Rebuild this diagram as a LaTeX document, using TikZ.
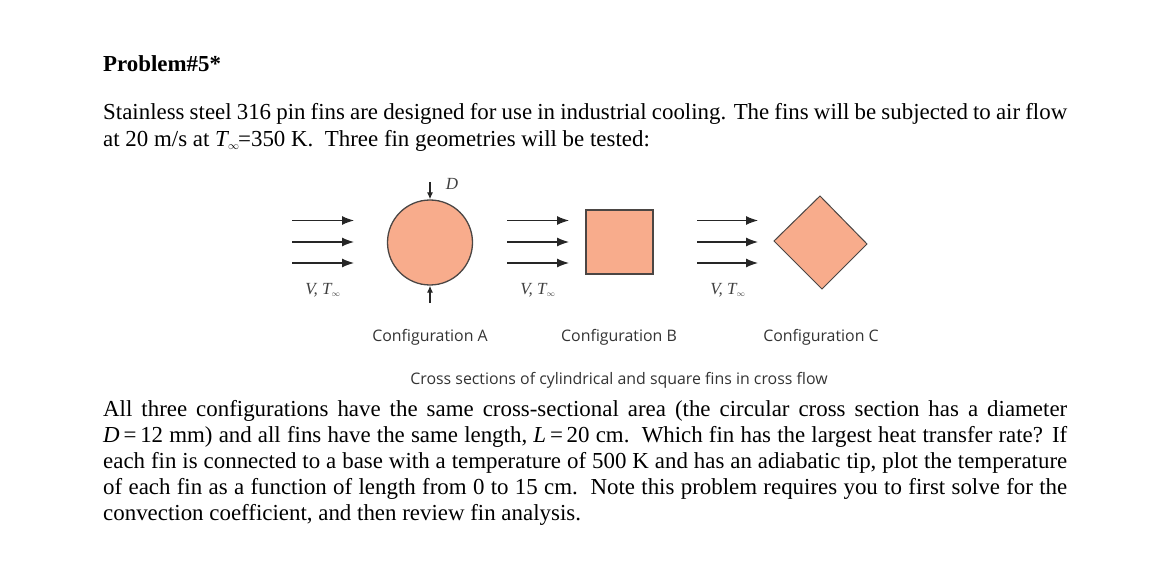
\documentclass[tikz,border=0pt]{standalone}
\usepackage{fontspec}
\usepackage{xcolor}
\setmainfont{Liberation Serif}
\newfontfamily\capfont{Open Sans}
\usetikzlibrary{arrows.meta}
\definecolor{finfill}{RGB}{248,172,140}
\definecolor{finline}{RGB}{75,70,68}
\tikzset{
	bodytext/.style={anchor=base west,inner sep=0pt,font=\fontsize{22.9}{26.2}\selectfont},
	parabox/.style={bodytext,text width=964pt,align=justify},
	conftext/.style={inner sep=0pt,text=black!80,font=\capfont\fontsize{15.9}{18}\selectfont},
	flowtext/.style={inner sep=0pt,text=black!75,font=\fontsize{17}{18}\selectfont\itshape},
	finshape/.style={draw=finline,fill=finfill,line width=1.3pt},
}
\begin{document}
\begin{tikzpicture}[x=1pt,y=-1pt]
	\useasboundingbox (0,0) rectangle (1170,580);
	% text
	\node[bodytext,font=\fontsize{22.9}{26}\selectfont\bfseries] (title) at (103,71.5) {Problem\#5*};
	\node[parabox] (intro) at (103,120) {Stainless steel 316 pin fins are designed for use in industrial cooling. The fins will be subjected to air flow\linebreak
		at 20 m/s at \textit{T}\kern-1pt$_{\scriptscriptstyle\infty}$\kern-1.5pt=350 K.\ \ Three fin geometries will be tested:};
	\node[parabox] (body) at (103,416) {All three configurations have the same cross-sectional area (the circular cross section has a diameter\linebreak
		\textit{D}\,=\,12 mm) and all fins have the same length, \textit{L}\,=\,20 cm.\ \ Which fin has the largest heat transfer rate? If\linebreak
		each fin is connected to a base with a temperature of 500 K and has an adiabatic tip, plot the temperature\linebreak
		of each fin as a function of length from 0 to 15 cm.\ \ Note this problem requires you to first solve for the\linebreak
		convection coefficient, and then review fin analysis.};
	% fins
	\node[finshape,circle,inner sep=0pt,minimum size=85pt] (A) at (430,242.5) {};
	\node[finshape,rectangle,inner sep=0pt,minimum width=67pt,minimum height=64pt] (B) at (619.5,242) {};
	\coordinate (Ct) at (820,196);
	\coordinate (Cr) at (867,244);
	\coordinate (Cb) at (822,289);
	\coordinate (Cl) at (774,241);
	\draw[finshape,line width=1pt] (Ct) -- (Cr) -- (Cb) -- (Cl) -- cycle;
	% flow arrows, free ends
	\coordinate (P1) at (292,220.5);
	\coordinate (P1') at (292,242);
	\coordinate (P1'') at (292,263);
	\coordinate (Q1) at (354,220.5);
	\coordinate (Q1') at (354,242);
	\coordinate (Q1'') at (354,263);
	\coordinate (P2) at (507,220.5);
	\coordinate (P2') at (507,242);
	\coordinate (P2'') at (507,263);
	\coordinate (Q2) at (569,220.5);
	\coordinate (Q2') at (569,242);
	\coordinate (Q2'') at (569,263);
	\coordinate (P3) at (697,220.5);
	\coordinate (P3') at (697,242);
	\coordinate (P3'') at (697,263);
	\coordinate (Q3) at (758,220.5);
	\coordinate (Q3') at (758,242);
	\coordinate (Q3'') at (758,263);
	\coordinate (Dtop) at (430,182);
	\coordinate (Dbot) at (430,303);
	%
	\path[-{Latex[length=12pt,width=9pt]},color=black!85,line width=1.2pt]
	% horizontal arrows
	(P1) edge (Q1)
	(P1') edge (Q1')
	(P1'') edge (Q1'')
	(P2) edge (Q2)
	(P2') edge (Q2')
	(P2'') edge (Q2'')
	(P3) edge (Q3)
	(P3') edge (Q3')
	(P3'') edge (Q3'');
	\path[-{Latex[length=7pt,width=6pt]},color=black!85,line width=1.2pt]
	% diameter arrows
	(Dtop) edge (A.north)
	(Dbot) edge (A.south);
	% labels
	\node[flowtext] (Dlab) at (452,184) {D};
	\node[flowtext] (flow1) at (323,290) {V, T$_{\scriptscriptstyle\infty}$};
	\node[flowtext] (flow2) at (538,290) {V, T$_{\scriptscriptstyle\infty}$};
	\node[flowtext] (flow3) at (728,290) {V, T$_{\scriptscriptstyle\infty}$};
	\node[conftext] (confA) at (430,337) {Configuration A};
	\node[conftext] (confB) at (619,337) {Configuration B};
	\node[conftext] (confC) at (821,337) {Configuration C};
	\node[conftext] (cross) at (619,380) {Cross sections of cylindrical and square fins in cross flow};
\end{tikzpicture}
\end{document}
